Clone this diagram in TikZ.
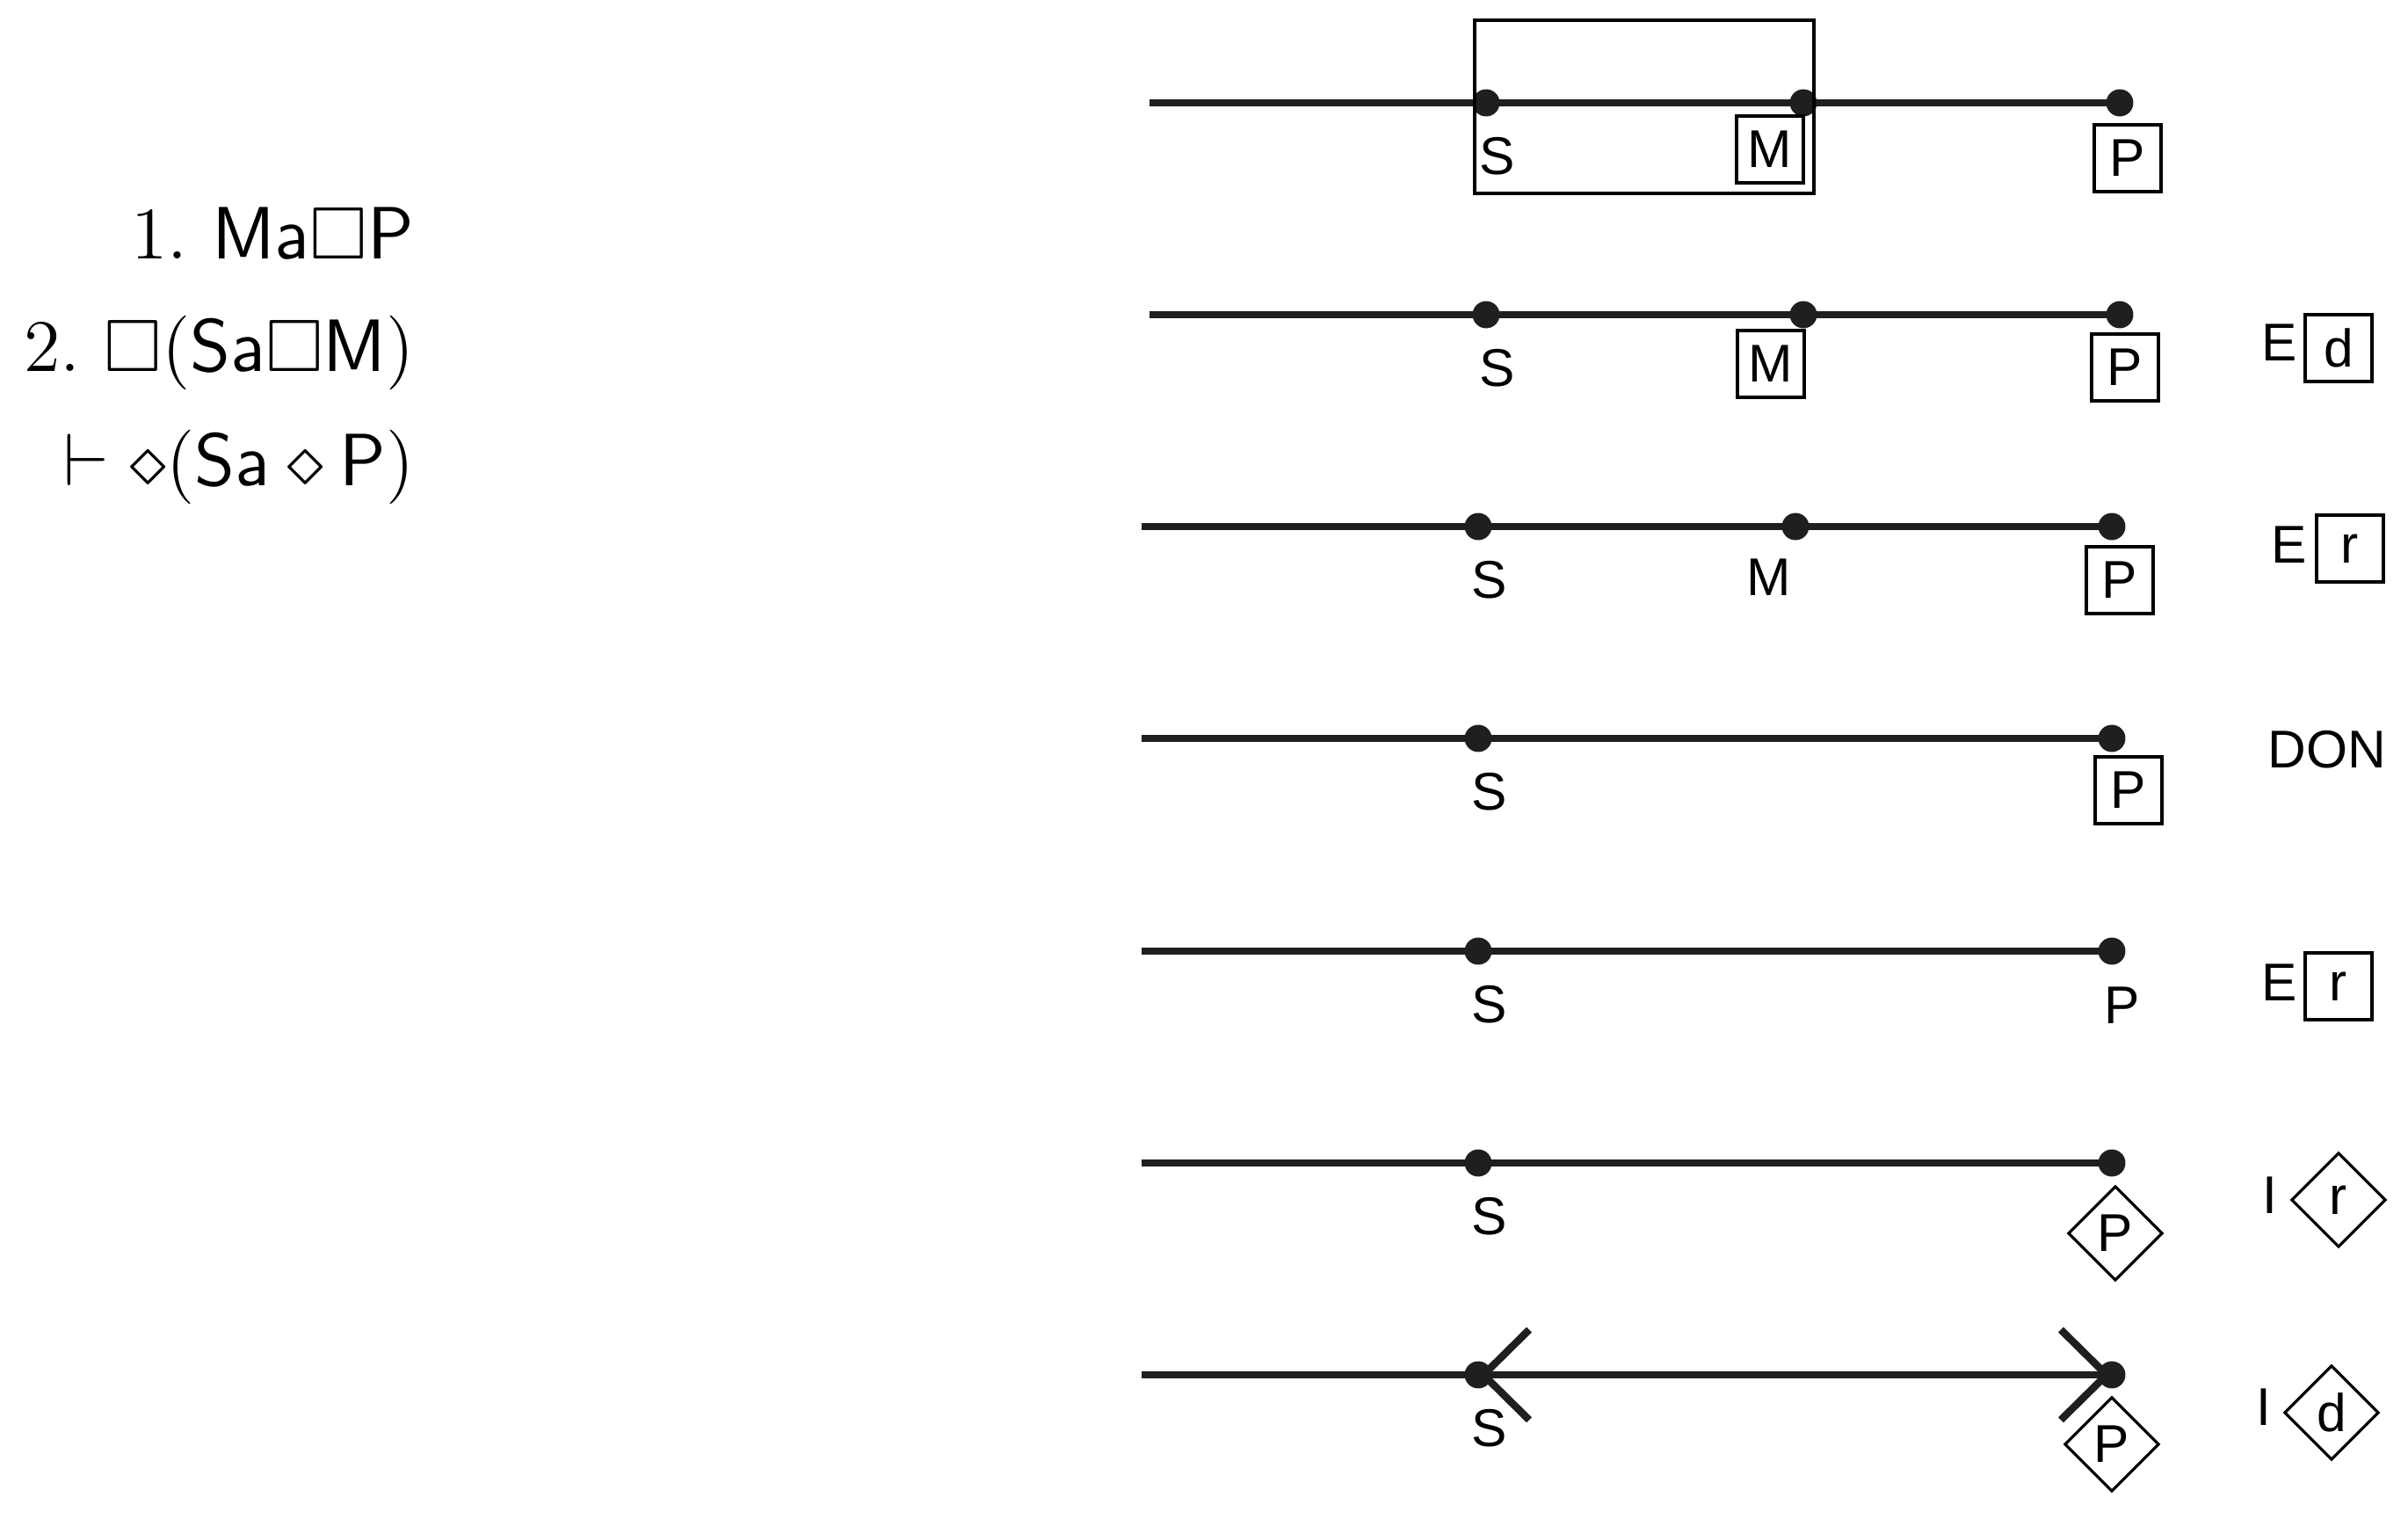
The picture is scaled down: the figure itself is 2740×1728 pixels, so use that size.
\documentclass[tikz,border=0pt]{standalone}
\usepackage{amssymb}
\usepackage{fontspec}
\newfontfamily\lblfont{Liberation Sans}
\usetikzlibrary{shapes.geometric,arrows.meta}
\tikzset{barb/.tip={Straight Barb[length=7.4pt,width=14.6pt,line width=1.2pt]}}

\begin{document}
\begin{tikzpicture}[x=0.05mm,y=-0.05mm,
	axis/.style={line width=1.05pt,color=black!88},
	dot/.style={circle,fill=black!88,inner sep=0pt,minimum size=4.4pt},
	lbl/.style={inner sep=0pt,font=\lblfont\fontsize{8.6}{10}\selectfont},
	bx/.style={lbl,draw,line width=0.45pt,minimum size=10.8pt},
	dm/.style={lbl,draw,diamond,aspect=1,line width=0.45pt,minimum size=15.3pt},
	prem/.style={inner sep=0pt,anchor=base east,font=\fontsize{12}{14}\selectfont}]
	\useasboundingbox (0,0) rectangle (2740,1728);

	% premises and conclusion
	\node[prem] (prem1) at (472,295) {$1.\ \mathsf{Ma}\Box\mathsf{P}$};
	\node[prem] (prem2) at (473,423) {$2.\ \Box(\mathsf{Sa}\Box\mathsf{M})$};
	\node[prem] (concl) at (473,553) {$\vdash\diamond(\mathsf{Sa}\diamond\mathsf{P})$};

	% the seven lines
	\foreach \r/\y/\dx in {1/117/9, 2/358/9, 3/599/0, 4/840/0, 5/1082/0, 6/1323/0, 7/1564/0}
	{
		\coordinate (a\r) at (1299+\dx,\y);
		\node[dot] (S\r) at (1682+\dx,\y) {};
		\node[dot] (P\r) at (2403+\dx,\y) {};
		\draw[axis] (a\r) -- (S\r.center);
		\node[lbl] (sS\r) at (1695+\dx,\y+61) {S};
	}
	\foreach \r/\y/\dx in {1/117/9, 2/358/9, 3/599/0}
		\node[dot] (M\r) at (2043+\dx,\y) {};
	\foreach \r in {1,...,6}
		\draw[axis] (S\r.center) -- (P\r.center);
	\draw[axis,barb-barb] (S7.center) -- (P7.center);

	\draw[line width=0.5pt] (1678,23) rectangle (2064,220);

	% labels under M and P
	\node[bx] (sM1) at (2014,170) {M};
	\node[bx] (sM2) at (2015,414) {M};
	\node[lbl] (sM3) at (2013,657) {M};
	\node[bx] (sP1) at (2421,180) {P};
	\node[bx] (sP2) at (2418,418) {P};
	\node[bx] (sP3) at (2412,660) {P};
	\node[bx] (sP4) at (2422,899) {P};
	\node[lbl] (sP5) at (2415,1144) {P};
	\node[dm] (sP6) at (2407,1403) {P};
	\node[dm] (sP7) at (2403,1643) {P};

	% rules
	\node[bx] (rd2) at (2661,396) {d};
	\node[lbl] (rE2) at (2594,390) {E};
	\node[bx] (rr3) at (2674,624) {r};
	\node[lbl] (rE3) at (2605,620) {E};
	\node[lbl] (rDON) at (2648,853) {DON};
	\node[bx] (rr5) at (2661,1122) {r};
	\node[lbl] (rE5) at (2594,1118) {E};
	\node[dm] (rr6) at (2661,1365) {r};
	\node[lbl] (rI6) at (2583,1360) {I};
	\node[dm] (rd7) at (2653,1607) {d};
	\node[lbl] (rI7) at (2576,1601) {I};
\end{tikzpicture}
\end{document}
